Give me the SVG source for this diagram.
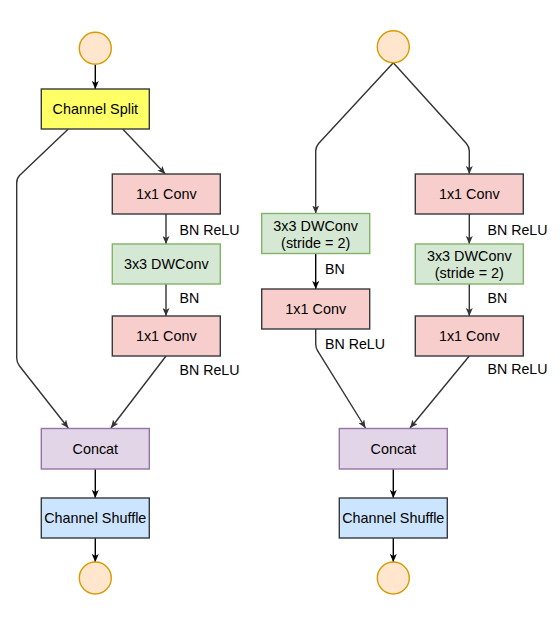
<svg xmlns="http://www.w3.org/2000/svg" width="560" height="617" viewBox="0 0 560 617">
<style>
.t{font-family:"Liberation Sans",Arial,sans-serif;font-size:14.4px;fill:#000;}
.c{text-anchor:middle;dominant-baseline:central;}
.lbl{font-family:"Liberation Sans",Arial,sans-serif;font-size:14.2px;fill:#000;dominant-baseline:central;}
.circ{fill:#ffe6cc;stroke:#d79b00;stroke-width:1.4;}
.split{fill:#ffff66;stroke:#36393d;stroke-width:1.4;}
.conv{fill:#f8cecc;stroke:#36393d;stroke-width:1.4;}
.dw{fill:#d5e8d4;stroke:#82b366;stroke-width:1.4;}
.cat{fill:#e1d5e7;stroke:#9673a6;stroke-width:1.4;}
.shuf{fill:#cce5ff;stroke:#36393d;stroke-width:1.4;}
.e{fill:none;stroke:#333;stroke-width:1.4;}
.eb{fill:none;stroke:#000;stroke-width:1.4;}
</style>
<defs>
<marker id="a" markerUnits="userSpaceOnUse" markerWidth="8" markerHeight="7" viewBox="0 0 8 7" refX="8" refY="3.5" orient="auto">
<path d="M0,0 L8,3.5 L0,7 L2,3.5 z" fill="#333"/>
</marker>
<marker id="ab" markerUnits="userSpaceOnUse" markerWidth="8" markerHeight="7" viewBox="0 0 8 7" refX="8" refY="3.5" orient="auto">
<path d="M0,0 L8,3.5 L0,7 L2,3.5 z" fill="#000"/>
</marker>
</defs>
<g id="connectors">
<!-- left module -->
<path class="eb" d="M95.3,64.3 L95.3,89" marker-end="url(#ab)"/>
<path class="e" d="M122.7,129 L165.3,174" marker-end="url(#a)"/>
<path class="e" d="M68.3,129 L19.5,175.5 Q16.7,178.5 16.7,183 L16.7,358 Q16.7,362.5 19.5,366 L68.3,428" marker-end="url(#a)"/>
<path class="e" d="M166,214 L166,244" marker-end="url(#a)"/>
<path class="e" d="M166,284 L166,316" marker-end="url(#a)"/>
<path class="e" d="M166,356 L111,428" marker-end="url(#a)"/>
<path class="eb" d="M95.3,469 L95.3,498" marker-end="url(#ab)"/>
<path class="eb" d="M95.3,538 L95.3,562" marker-end="url(#ab)"/>
<!-- right module -->
<path class="e" d="M393.3,62.7 L318.6,143.5 Q315.7,147 315.7,151 L315.7,213.5" marker-end="url(#a)"/>
<path class="e" d="M393.3,62.7 L466.4,143.5 Q469.3,147 469.3,151 L469.3,174" marker-end="url(#a)"/>
<path class="eb" d="M315.7,253.5 L315.7,289" marker-end="url(#ab)"/>
<path class="e" d="M315.7,329 L315.7,344 Q315.7,348 318,351.5 L365.5,428" marker-end="url(#a)"/>
<path class="e" d="M469.3,214 L469.3,244" marker-end="url(#a)"/>
<path class="e" d="M469.3,284 L469.3,316" marker-end="url(#a)"/>
<path class="e" d="M469.3,356 L410,428" marker-end="url(#a)"/>
<path class="eb" d="M393.3,469 L393.3,498" marker-end="url(#ab)"/>
<path class="eb" d="M393.3,538 L393.3,562" marker-end="url(#ab)"/>
<!-- edge labels -->
<text class="lbl" x="179.5" y="229.5">BN ReLU</text>
<text class="lbl" x="179.5" y="298">BN</text>
<text class="lbl" x="179.5" y="370">BN ReLU</text>
<text class="lbl" x="325" y="269">BN</text>
<text class="lbl" x="325" y="343.5">BN ReLU</text>
<text class="lbl" x="487.5" y="229.5">BN ReLU</text>
<text class="lbl" x="487.5" y="298">BN</text>
<text class="lbl" x="487.5" y="368.5">BN ReLU</text>
</g>
<!-- left module nodes -->
<g id="l-in"><circle class="circ" cx="95.3" cy="48.3" r="16"/></g>
<g id="l-split"><rect class="split" x="41.3" y="89" width="108" height="40"/><text class="t c" x="95.3" y="109">Channel Split</text></g>
<g id="l-conv1"><rect class="conv" x="112.3" y="174" width="108" height="40"/><text class="t c" x="166.3" y="194">1x1 Conv</text></g>
<g id="l-dw"><rect class="dw" x="112.3" y="244" width="108" height="40"/><text class="t c" x="166.3" y="264">3x3 DWConv</text></g>
<g id="l-conv2"><rect class="conv" x="112.3" y="316" width="108" height="40"/><text class="t c" x="166.3" y="336">1x1 Conv</text></g>
<g id="l-concat"><rect class="cat" x="41.3" y="428.5" width="108" height="40.5"/><text class="t c" x="95.3" y="449">Concat</text></g>
<g id="l-shuffle"><rect class="shuf" x="41.3" y="498" width="108" height="40"/><text class="t c" x="95.3" y="518">Channel Shuffle</text></g>
<g id="l-out"><circle class="circ" cx="95.3" cy="578" r="16"/></g>
<!-- right module nodes -->
<g id="r-in"><circle class="circ" cx="393.3" cy="46.7" r="16"/></g>
<g id="r-dw1"><rect class="dw" x="261.7" y="213.5" width="108" height="40"/><text class="t c" x="315.7" y="225.5">3x3 DWConv</text><text class="t c" x="315.7" y="242.5">(stride = 2)</text></g>
<g id="r-conv1"><rect class="conv" x="261.7" y="289" width="108" height="40"/><text class="t c" x="315.7" y="309">1x1 Conv</text></g>
<g id="r-conv2"><rect class="conv" x="415.3" y="174" width="108" height="40"/><text class="t c" x="469.3" y="194">1x1 Conv</text></g>
<g id="r-dw2"><rect class="dw" x="415.3" y="244" width="108" height="40"/><text class="t c" x="469.3" y="255.5">3x3 DWConv</text><text class="t c" x="469.3" y="272.5">(stride = 2)</text></g>
<g id="r-conv3"><rect class="conv" x="415.3" y="316" width="108" height="40"/><text class="t c" x="469.3" y="336">1x1 Conv</text></g>
<g id="r-concat"><rect class="cat" x="339.3" y="428.5" width="108" height="40.5"/><text class="t c" x="393.3" y="449">Concat</text></g>
<g id="r-shuffle"><rect class="shuf" x="339.3" y="498" width="108" height="40"/><text class="t c" x="393.3" y="518">Channel Shuffle</text></g>
<g id="r-out"><circle class="circ" cx="393.3" cy="578" r="16"/></g>
</svg>
